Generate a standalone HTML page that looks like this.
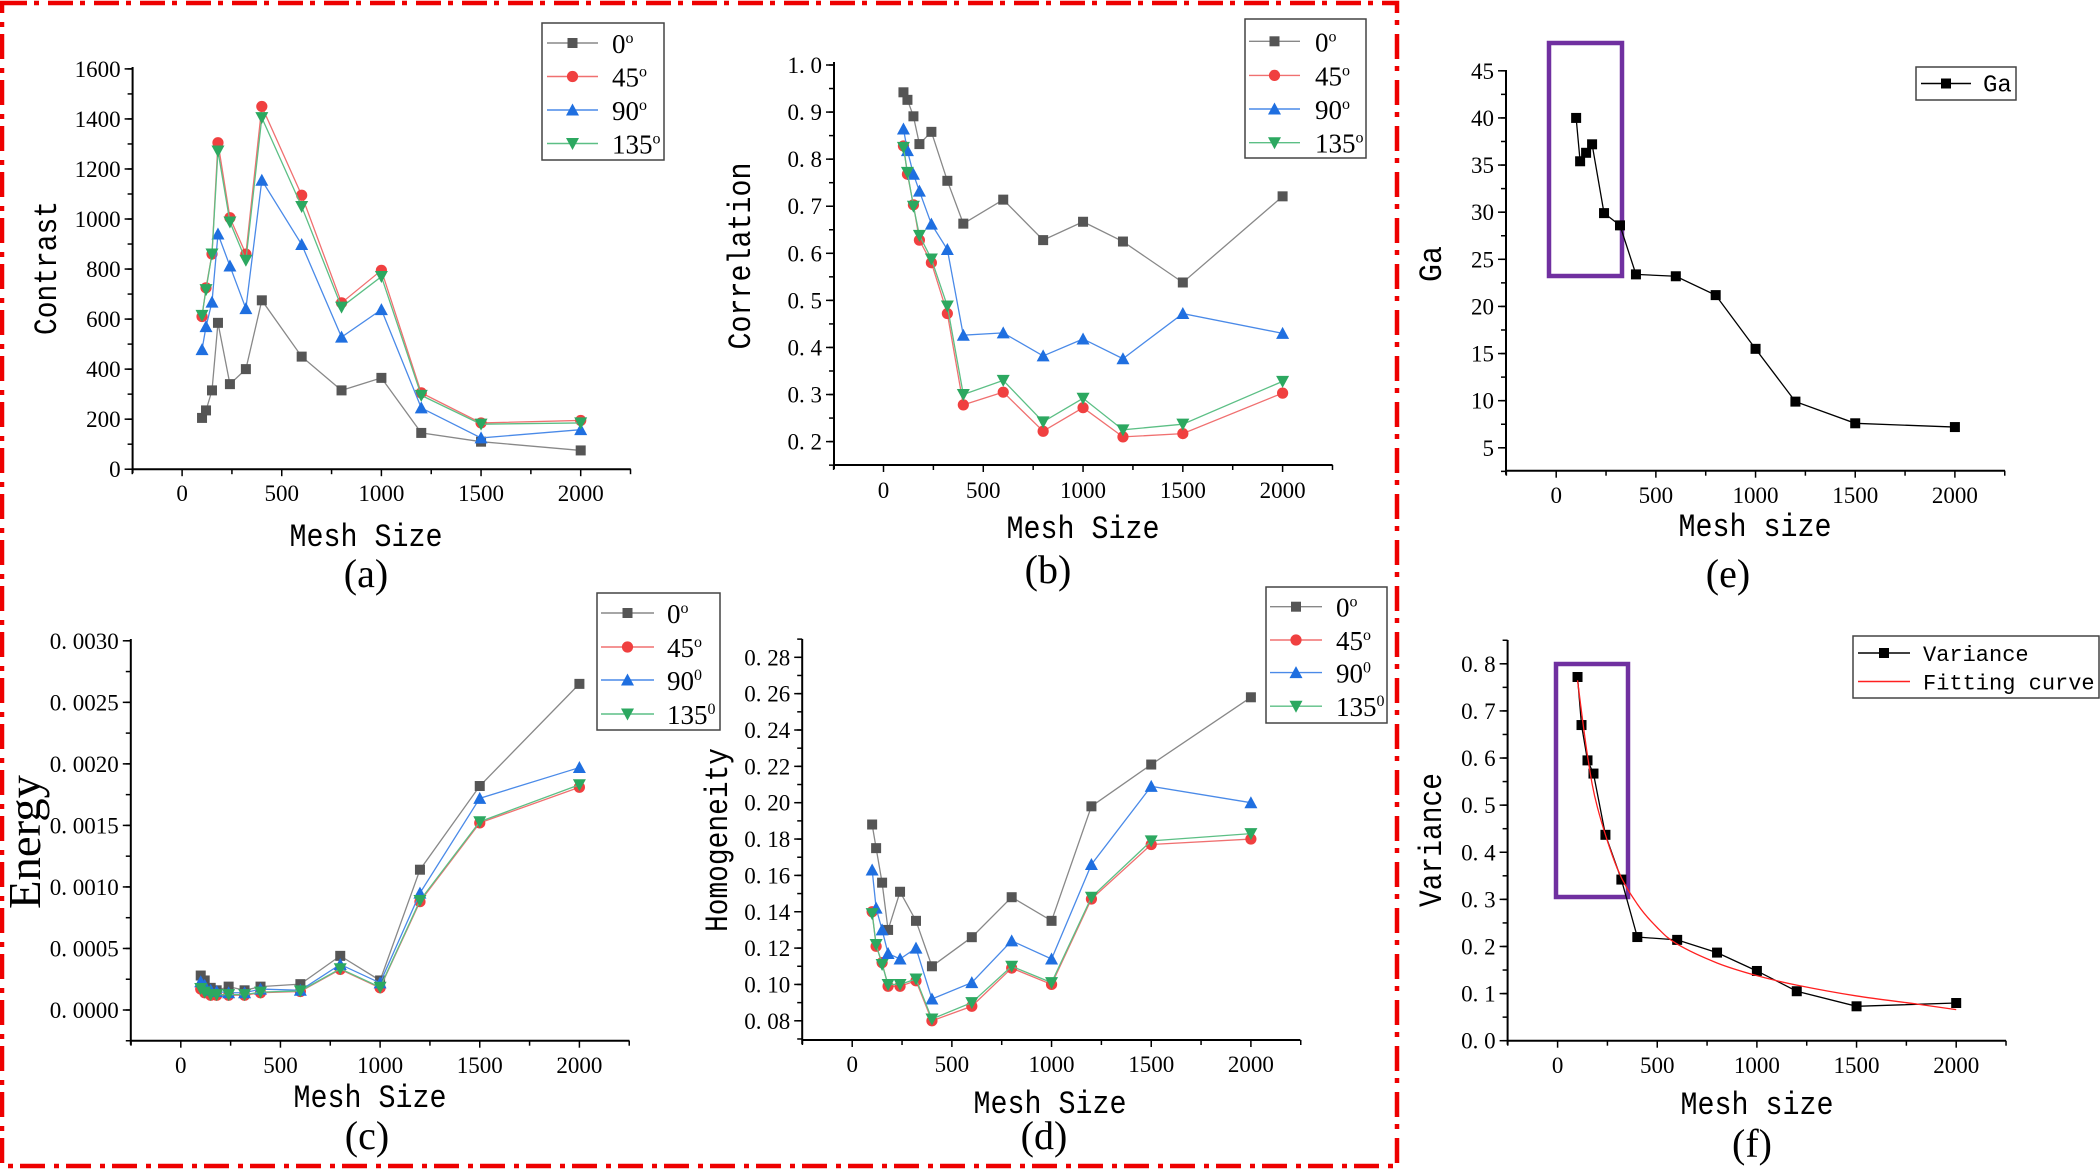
<!DOCTYPE html>
<html><head><meta charset="utf-8">
<style>
html,body{margin:0;padding:0;background:#fff;}
svg{display:block;}
text{font-family:"Liberation Serif",serif;fill:#000;}
.mono{font-family:"Liberation Mono",monospace;}
</style></head>
<body>
<svg id="s" width="2100" height="1170" viewBox="0 0 2100 1170" xmlns="http://www.w3.org/2000/svg">
<rect width="2100" height="1170" fill="#fff"/>
<path d="M2,3 H1397 V1166 H2 Z" fill="none" stroke="#ee0000" stroke-width="4.5" stroke-dasharray="25 7 5 9"/>
<rect x="1549" y="43" width="73" height="233" fill="none" stroke="#7030a0" stroke-width="4.5"/>
<rect x="1556" y="664" width="72" height="233" fill="none" stroke="#7030a0" stroke-width="4.5"/>
<g id="g"></g>
</svg>
<script>
const NS="http://www.w3.org/2000/svg";
const G=document.getElementById('g');
function el(t,a,txt){const e=document.createElementNS(NS,t);for(const k in a)e.setAttribute(k,a[k]);if(txt!==undefined)e.textContent=txt;G.appendChild(e);return e;}
const XS=[100,120,150,180,240,320,400,600,800,1000,1200,1500,2000];
const COL={k:['#555','#888'],r:['#f04040','#f07070'],b:['#1f6fe0','#4a8ae8'],g:['#2ca860','#5cbf85'],K:['#000','#000']};
function marker(sh,x,y,c,s){
  s=s||10;
  if(sh==='sq')el('rect',{x:x-s/2,y:y-s/2,width:s,height:s,fill:c});
  else if(sh==='ci')el('circle',{cx:x,cy:y,r:s/2+0.6,fill:c});
  else if(sh==='tu')el('polygon',{points:`${x-6.5},${y+5.5} ${x+6.5},${y+5.5} ${x},${y-6.5}`,fill:c});
  else if(sh==='td')el('polygon',{points:`${x-6.5},${y-5.5} ${x+6.5},${y-5.5} ${x},${y+6.5}`,fill:c});
}
function chart(c){
  const X=v=>c.xa+v*(c.xb-c.xa)/2000;
  const Y=v=>c.p1+(v-c.v1)*(c.p2-c.p1)/(c.v2-c.v1);
  el('line',{x1:c.ax,y1:c.top,x2:c.ax,y2:c.bot+4,stroke:'#000','stroke-width':2});
  el('line',{x1:c.ax,y1:c.bot,x2:c.right,y2:c.bot,stroke:'#000','stroke-width':2});
  for(let v=-250;v<=2250;v+=250){const x=X(v);const maj=(v%500===0);
    el('line',{x1:x,y1:c.bot,x2:x,y2:c.bot+(maj?7:5),stroke:'#000','stroke-width':1.5});
    if(maj&&v>=0)el('text',{x:x,y:c.xly,'text-anchor':'middle','font-size':23},String(v));}
  for(let i=0;;i++){const v=c.ymin+i*c.minor;if(v>c.ymax+1e-9)break;const y=Y(v);
    el('line',{x1:c.ax,y1:y,x2:c.ax-5,y2:y,stroke:'#000','stroke-width':1.5});}
  c.labels.forEach(([v,t])=>{const y=Y(v);
    el('line',{x1:c.ax,y1:y,x2:c.ax-8,y2:y,stroke:'#000','stroke-width':1.5});
    el('text',{x:c.ax-12,y:y+8,'text-anchor':'end','font-size':23},t);});
  c.series.forEach(s=>{
    const pts=XS.map((x,i)=>[X(x),Y(s.d[i])]);
    el('polyline',{points:pts.map(p=>p.join(',')).join(' '),fill:'none',stroke:COL[s.c][1],'stroke-width':1.3});
    pts.forEach(p=>marker(s.m,p[0],p[1],COL[s.c][0],s.sz));
  });
  if(c.fit){
    const f=c.fit;const p=f.map(([x,y])=>[X(x),Y(y)]);
    let d=`M${p[0][0]},${p[0][1]}`;
    for(let i=0;i<p.length-1;i++){const p0=p[Math.max(0,i-1)],p1=p[i],p2=p[i+1],p3=p[Math.min(p.length-1,i+2)];
      d+=` C${p1[0]+(p2[0]-p0[0])/6},${p1[1]+(p2[1]-p0[1])/6} ${p2[0]-(p3[0]-p1[0])/6},${p2[1]-(p3[1]-p1[1])/6} ${p2[0]},${p2[1]}`;}
    el('path',{d:d,fill:'none',stroke:'#ff2020','stroke-width':1.3});
  }
  el('text',{x:c.mx,y:c.my,'text-anchor':'middle','font-size':32,class:'mono',textLength:153,lengthAdjust:'spacingAndGlyphs'},c.xt);
  const yt=el('text',{x:0,y:0,'text-anchor':'middle','font-size':c.ytf||32,class:c.ytSerif?'':'mono',transform:`translate(${c.ytx},${c.yty}) rotate(-90)`},c.yt);
  if(c.ytl){yt.setAttribute('textLength',c.ytl);yt.setAttribute('lengthAdjust','spacingAndGlyphs');}
  el('text',{x:c.lx,y:c.ly,'text-anchor':'middle','font-size':40},c.lt);
  const L=c.leg;
  el('rect',{x:L.x,y:L.y,width:L.w,height:L.h,fill:'#fff',stroke:'#444','stroke-width':1.5});
  L.items.forEach(it=>{
    el('line',{x1:L.l1,y1:it.y,x2:L.l2,y2:it.y,stroke:it.lc||COL[it.c][1],'stroke-width':1.4});
    if(it.m)marker(it.m,(L.l1+L.l2)/2,it.y,COL[it.c][0],it.sz);
    const t=el('text',{x:L.tx,y:it.y+(L.ty||10),'font-size':L.fs||27,class:L.mono?'mono':''},it.t);
    if(it.sup){const ts=document.createElementNS(NS,'tspan');ts.setAttribute('dy','-10');ts.setAttribute('font-size','16');ts.textContent=it.sup;t.appendChild(ts);}
  });
}
const K=(d)=>({c:'k',m:'sq',d}),R=(d)=>({c:'r',m:'ci',d}),B=(d)=>({c:'b',m:'tu',d}),Gr=(d)=>({c:'g',m:'td',d});
function legStd(x,y,w,h,ys,l1,l2,tx,sups){
  return {x,y,w,h,l1,l2,tx,items:[
    {c:'k',m:'sq',y:ys[0],t:'0',sup:sups[0]},{c:'r',m:'ci',y:ys[1],t:'45',sup:sups[1]},
    {c:'b',m:'tu',y:ys[2],t:'90',sup:sups[2]},{c:'g',m:'td',y:ys[3],t:'135',sup:sups[3]}]};
}
chart({xa:182.1,xb:580.7,ax:132.6,right:630.8,top:67,bot:469.2,v1:0,p1:469.2,v2:1600,p2:68.9,ymin:0,ymax:1600,minor:100,
  labels:[0,200,400,600,800,1000,1200,1400,1600].map(v=>[v,String(v)]),xly:501,
  series:[K([205,235,315,585,340,400,675,450,315,365,145,110,75]),R([610,725,860,1305,1005,860,1450,1095,665,795,305,185,195]),
    B([478,570,668,940,812,642,1155,898,528,638,245,125,158]),Gr([615,718,860,1272,988,835,1405,1050,648,770,295,180,185])],
  mx:366,my:546,xt:'Mesh Size',ytx:56,yty:268,yt:'Contrast',ytl:134,lx:366,ly:587,lt:'(a)',
  leg:legStd(542,23,122,137,[43,76.5,110,143.5],547,598,612,['o','o','o','o'])});
chart({xa:883.5,xb:1282.6,ax:834,right:1332.6,top:62,bot:465,v1:0.2,p1:441.6,v2:1.0,p2:65,ymin:0.15,ymax:1.0,minor:0.05,
  labels:[0.2,0.3,0.4,0.5,0.6,0.7,0.8,0.9,1.0].map(v=>[v,v.toFixed(1).replace('.','. ')]),xly:498,
  series:[K([.942,.926,.891,.832,.858,.754,.663,.714,.628,.667,.625,.538,.721]),R([.828,.768,.703,.628,.580,.472,.278,.305,.222,.272,.210,.217,.303]),
    B([.864,.818,.768,.732,.662,.608,.426,.431,.382,.418,.376,.472,.430]),Gr([.825,.772,.700,.638,.588,.488,.300,.330,.242,.292,.225,.237,.328])],
  mx:1083,my:538,xt:'Mesh Size',ytx:750,yty:256,yt:'Correlation',ytl:187,lx:1048,ly:583,lt:'(b)',
  leg:legStd(1245,19,121,139,[41.3,75.4,109,142.7],1249,1300,1315,['o','o','o','o'])});
chart({xa:1556.2,xb:1954.9,ax:1506,right:2005,top:70,bot:470.7,v1:5,p1:447.8,v2:45,p2:70.8,ymin:2.5,ymax:45,minor:2.5,
  labels:[5,10,15,20,25,30,35,40,45].map(v=>[v,String(v)]),xly:503,
  series:[{c:'K',m:'sq',sz:10,d:[40,35.4,36.3,37.2,29.9,28.6,23.4,23.2,21.2,15.5,9.9,7.6,7.2]}],
  mx:1755,my:536,xt:'Mesh size',ytx:1441,yty:264,yt:'Ga',ytl:36,lx:1728,ly:587,lt:'(e)',
  leg:{x:1916,y:67,w:100,h:33,l1:1921,l2:1971,tx:1983,ty:8,fs:24,mono:true,items:[{c:'K',m:'sq',y:83.5,t:'Ga',lc:'#000'}]}});
chart({xa:180.8,xb:579.4,ax:130.8,right:629.4,top:639,bot:1040.7,v1:0,p1:1010,v2:0.003,p2:640.8,ymin:-0.00025,ymax:0.003,minor:0.00025,
  labels:[0,0.0005,0.001,0.0015,0.002,0.0025,0.003].map(v=>[v,v.toFixed(4).replace('.','. ')]),xly:1073,
  series:[K([.00028,.00024,.00018,.00016,.00019,.00016,.00019,.00021,.00044,.00024,.00114,.00182,.00265]),
    R([.00017,.00014,.00012,.00012,.00012,.00012,.00014,.00015,.00033,.00018,.00088,.00152,.00181]),
    B([.00023,.0002,.00016,.00015,.00014,.00014,.00017,.00016,.00037,.00022,.00095,.00172,.00197]),
    Gr([.000175,.000145,.000125,.000125,.000125,.000125,.000145,.000155,.000335,.000185,.00089,.00153,.00183])],
  mx:370,my:1107,xt:'Mesh Size',ytx:40,yty:842,yt:'Energy',ytf:46,ytSerif:true,ytl:134,lx:367,ly:1149,lt:'(c)',
  leg:legStd(597,593,123,137,[613,647,680,714],601,654,667,['o','o','0','0'])});
chart({xa:852.2,xb:1250.9,ax:802.2,right:1300.4,top:639,bot:1040,v1:0.08,p1:1020.8,v2:0.28,p2:657.3,ymin:0.07,ymax:0.29,minor:0.01,
  labels:[.08,.10,.12,.14,.16,.18,.20,.22,.24,.26,.28].map(v=>[v,v.toFixed(2).replace('.','. ')]),xly:1072,
  series:[K([.188,.175,.156,.130,.151,.135,.110,.126,.148,.135,.198,.221,.258]),R([.140,.121,.112,.099,.099,.102,.080,.088,.109,.100,.147,.177,.180]),
    B([.163,.142,.130,.117,.114,.120,.092,.101,.124,.114,.166,.209,.200]),Gr([.139,.122,.111,.100,.100,.103,.081,.090,.110,.101,.148,.179,.183])],
  mx:1050,my:1113,xt:'Mesh Size',ytx:727,yty:840,yt:'Homogeneity',ytl:184,lx:1044,ly:1149,lt:'(d)',
  leg:legStd(1266,587,121,136,[606.7,640,672.6,706.2],1270,1322,1336,['o','o','0','0'])});
chart({xa:1557.6,xb:1956.2,ax:1507.6,right:2006,top:640,bot:1040.7,v1:0,p1:1040.7,v2:0.8,p2:663.8,ymin:0,ymax:0.85,minor:0.05,
  labels:[0,.1,.2,.3,.4,.5,.6,.7,.8].map(v=>[v,v.toFixed(1).replace('.','. ')]),xly:1073,
  series:[{c:'K',m:'sq',sz:10,d:[.772,.670,.595,.567,.437,.342,.220,.214,.187,.148,.105,.073,.080]}],
  fit:[[100,.765],[150,.605],[200,.495],[300,.365],[400,.29],[500,.24],[600,.205],[800,.165],[1000,.138],[1200,.118],[1500,.095],[1800,.078],[2000,.066]],
  mx:1757,my:1114,xt:'Mesh size',ytx:1441,yty:840,yt:'Variance',ytl:134,lx:1752,ly:1157,lt:'(f)',
  leg:{x:1853,y:636,w:246,h:62,l1:1858,l2:1910,tx:1923,ty:8,fs:22,mono:true,items:[
    {c:'K',m:'sq',y:653,t:'Variance',lc:'#000'},{c:'K',y:681.5,t:'Fitting curve',lc:'#ff2020'}]}});
</script>
</body></html>
